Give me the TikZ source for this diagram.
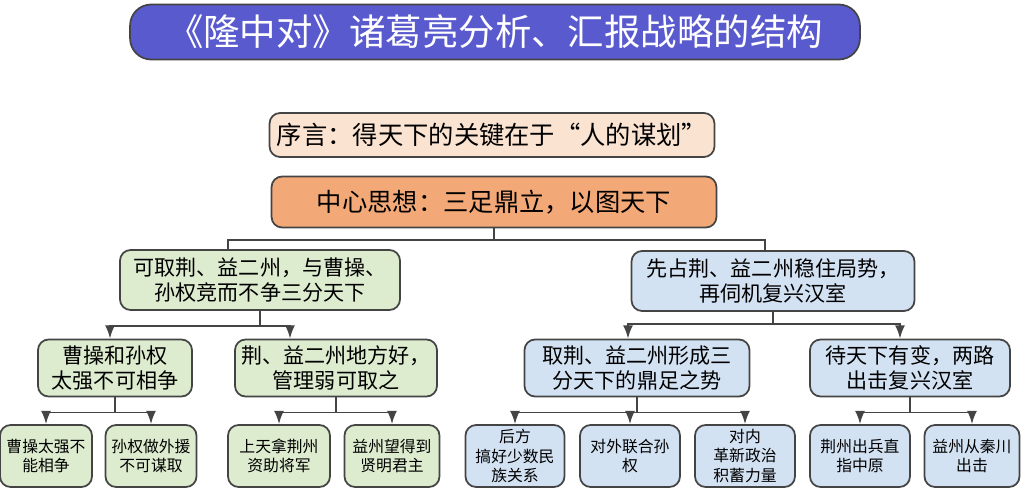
\documentclass[tikz,border=0pt]{standalone}
\usepackage{fontspec}
\setmainfont{Noto Sans CJK SC}
\usetikzlibrary{arrows.meta, positioning}
\definecolor{titlefill}{HTML}{5A5ACF}
\definecolor{peach}{HTML}{FBE3D2}
\definecolor{orangebox}{HTML}{F3A977}
\definecolor{greenbox}{HTML}{DDEBCF}
\definecolor{bluebox}{HTML}{D3E2F3}
\definecolor{edge}{HTML}{444444}

\begin{document}
\begin{tikzpicture}[x=0.02cm, y=-0.02cm, >=Latex, thick,
    box/.style={draw=edge, line width=1pt, rounded corners=6pt, align=center, inner sep=2pt},
    link/.style={draw=edge, line width=1pt}]
    % Define styles for the boxes
    \tikzstyle{titlebox} = [box, fill=titlefill, text=white, font=\huge, minimum width=14.6cm, minimum height=1.1cm, rounded corners=12pt]
    \tikzstyle{topbox} = [box, minimum width=8.9cm, font=\Large]
    \tikzstyle{leftbox} = [box, fill=greenbox, font=\large]
    \tikzstyle{rightbox} = [box, fill=bluebox, font=\large]
    \useasboundingbox (0,0) rectangle (1024,490);

    % Nodes placement
    \node [titlebox] (title) at (495,32) {《隆中对》诸葛亮分析、汇报战略的结构};
    \node [topbox, fill=peach, minimum height=0.88cm] (preface) at (492,135) {序言：得天下的关键在于“人的谋划”};
    \node [topbox, fill=orangebox, minimum height=1.02cm] (core) at (494,202) {中心思想：三足鼎立，以图天下};

    \node [leftbox, minimum width=5.6cm, minimum height=1.2cm] (takeA) at (260,280) {可取荆、益二州，与曹操、\\孙权竞而不争三分天下};
    \node [rightbox, minimum width=5.66cm, minimum height=1.2cm] (holdA) at (773,281) {先占荆、益二州稳住局势，\\再伺机复兴汉室};

    \node [leftbox, minimum width=3.08cm, minimum height=1.14cm] (strong) at (115,368) {曹操和孙权\\太强不可相争};
    \node [leftbox, minimum width=4.04cm, minimum height=1.14cm] (weak) at (336,368) {荆、益二州地方好，\\管理弱可取之};
    \node [rightbox, minimum width=4.5cm, minimum height=1.14cm] (tripod) at (637,368) {取荆、益二州形成三\\分天下的鼎足之势};
    \node [rightbox, minimum width=4cm, minimum height=1.14cm] (wait) at (910,368) {待天下有变，两路\\出击复兴汉室};

    \tikzset{leaf/.style={minimum width=1.9cm, minimum height=1.24cm, font=\small}}
    \node [leftbox, leaf, minimum width=1.84cm] (c1) at (46,456) {曹操太强不\\能相争};
    \node [leftbox, leaf, minimum width=1.82cm] (c2) at (151,456) {孙权做外援\\不可谋取};
    \node [leftbox, leaf, minimum width=2.04cm] (c3) at (279,456) {上天拿荆州\\资助将军};
    \node [leftbox, leaf] (c4) at (392,456) {益州望得到\\贤明君主};
    \node [rightbox, leaf, minimum width=1.98cm] (c5) at (515,456) {后方\\搞好少数民\\族关系};
    \node [rightbox, leaf, minimum width=2cm] (c6) at (630,456) {对外联合孙\\权};
    \node [rightbox, leaf, minimum width=2cm] (c7) at (745,456) {对内\\革新政治\\积蓄力量};
    \node [rightbox, leaf, minimum width=2cm] (c8) at (860,456) {荆州出兵直\\指中原};
    \node [rightbox, leaf] (c9) at (972,456) {益州从秦川\\出击};

    % Draw edges
    \draw [link] (core.south) -- ++(0,12) -| ([xshift=-0.64cm]takeA.north);
    \draw [link] (core.south) ++(0,12) -| ([xshift=-0.16cm]holdA.north);
    \draw [link,->] (takeA.south) -- ++(0,15) -| ([xshift=-0.1cm]strong.north);
    \draw [link,->] (takeA.south) ++(0,15) -| ([xshift=-0.92cm]weak.north);
    \draw [link,->] (holdA.south) -- ++(0,12) -| ([xshift=-0.18cm]tripod.north);
    \draw [link,->] (holdA.south) ++(0,12) -| ([xshift=-0.2cm]wait.north);
    \foreach \p/\a/\b in {strong/c1/c2, weak/c3/c4, wait/c8/c9} {
        \draw [link,->] (\p.south) -- ++(0,15) -| (\a.north);
        \draw [link,->] (\p.south) ++(0,15) -| (\b.north);
    }
    \draw [link,->] (tripod.south) -- ++(0,15) -| (c5.north);
    \draw [link,->] (tripod.south) ++(0,15) -| (c6.north);
    \draw [link,->] (tripod.south) ++(0,15) -| (c7.north);
\end{tikzpicture}
\end{document}
